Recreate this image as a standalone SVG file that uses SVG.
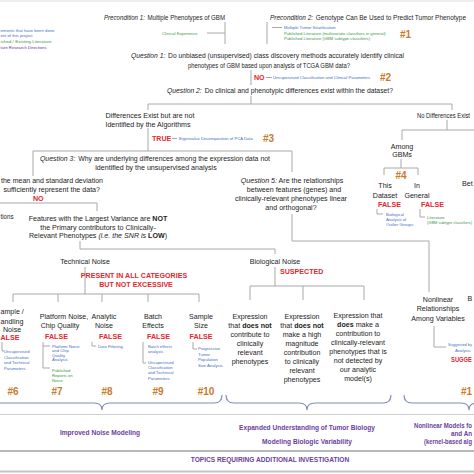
<svg xmlns="http://www.w3.org/2000/svg" width="474" height="474" viewBox="0 0 474 474">
<style>
text{font-family:"Liberation Sans",Arial,sans-serif;font-size:7.1px;fill:#1c1c1c}
.m{text-anchor:middle}
.e{text-anchor:end}
.i{font-style:italic}
.bd{font-weight:bold}
.r{fill:#e0282e;font-weight:bold}
.o{fill:#c97a2c;font-weight:bold;font-size:10px}
.s{font-size:4.2px}
.b{fill:#3f6fc4}
.g{fill:#3a9a48}
.p{fill:#7030a0}
.pp{fill:#6a3f9c;font-weight:bold;font-size:6.6px}
.ln{stroke:#a8a8a8;stroke-width:1;fill:none}
.br{stroke:#7d8fb8;stroke-width:1.2;fill:none}
</style>
<rect width="474" height="474" fill="#ffffff"/>
<line x1="0" y1="1" x2="474" y2="1" stroke="#dcdcdc" stroke-width="1"/>

<g id="connectors">
<path class="ln" d="M225 22V44M267 22V44M272 27.5H282M207 33H225"/>
<path class="ln" d="M251 70V85M266 77.5H272M251 96V104M148 110V104H452V110"/>
<path class="ln" d="M447 120V130M402 140V130H474M401 159V168M384 175V168H418V175"/>
<path class="ln" d="M377 209V214H383M420 209V217H425"/>
<path class="ln" d="M148 128V151M172 138.5H177M33 176V151H292V172M292 214V241H429V292"/>
<path class="ln" d="M97 211V203H0"/>
<path class="ln" d="M80 241V249H275V254M85 267V294M13 302V294H199V302M58 294V302M102 294V302M148 294V302"/>
<path class="ln" d="M275 267V286M250 300V286H364V300M303 286V300"/>
<path class="ln" d="M2 342V351H4M43 342V368H50M43 346H50M92 342V346H96M143 342V363H146M193 342V349H197M434 326V347H446"/>
<path class="br" d="M-10 403H94Q102 403 102 410Q102 403 110 403H214Q222 403 222 395"/>
<path class="br" d="M226 395Q226 403 234 403H299Q307 403 307 410Q307 403 315 403H383Q391 403 391 395"/>
<path class="br" d="M404 395Q404 403 412 403H461Q469 403 469 410Q469 403 477 403H490"/>
<line x1="0" y1="414.5" x2="474" y2="414.5" stroke="#cfcfcf" stroke-width="1"/>
<line x1="0" y1="451" x2="474" y2="451" stroke="#a0a0a0" stroke-width="1.3"/>
<line x1="0" y1="471.5" x2="474" y2="471.5" stroke="#c4c4c4" stroke-width="2"/>
</g>

<g id="legend">
<text class="s b" x="0.5" y="31.5" textLength="54" lengthAdjust="spacingAndGlyphs">ements that have been done</text>
<text class="s b" x="0.5" y="37" textLength="32" lengthAdjust="spacingAndGlyphs">ent of this project</text>
<text class="s g" x="0.5" y="43" textLength="51" lengthAdjust="spacingAndGlyphs">ished / Existing Literature</text>
<text class="s p" x="0.5" y="48.5" textLength="46" lengthAdjust="spacingAndGlyphs">ture Research Directions</text>
</g>

<g id="precondition1">
<text x="104" y="20" textLength="121" lengthAdjust="spacingAndGlyphs"><tspan class="i">Precondition 1:</tspan><tspan dx="3">Multiple Phenotypes of GBM</tspan></text>
<text class="s g" x="162" y="34.5">Clinical Experience</text>
</g>

<g id="precondition2">
<text x="270" y="20" textLength="196" lengthAdjust="spacingAndGlyphs"><tspan class="i">Precondition 2:</tspan><tspan dx="3">Genotype Can Be Used to Predict Tumor Phenotype</tspan></text>
<text class="s b" x="284" y="29">Multiple Tumor Stratification</text>
<text class="s g" x="284" y="34.5">Published Literature (multivariate classifiers in general)</text>
<text class="s g" x="284" y="40">Published Literature (GBM subtype classifiers)</text>
<text class="o" x="400" y="38">#1</text>
</g>

<g id="question1">
<text x="131" y="58" textLength="273" lengthAdjust="spacingAndGlyphs"><tspan class="i">Question 1:</tspan><tspan dx="3">Do unbiased (unsupervised) class discovery methods accurately identify clinical</tspan></text>
<text x="188" y="68" textLength="162" lengthAdjust="spacingAndGlyphs">phenotypes of GBM based upon analysis of TCGA GBM data?</text>
<text class="r" x="254" y="80">NO</text>
<text class="s b" x="273" y="79">Unsupervised Classification and Clinical Parameters</text>
<text class="o" x="380" y="81">#2</text>
</g>

<g id="question2">
<text x="167" y="93" textLength="226" lengthAdjust="spacingAndGlyphs"><tspan class="i">Question 2:</tspan><tspan dx="3">Do clinical and phenotypic differences exist within the dataset?</tspan></text>
</g>

<g id="diff-exist">
<text class="m" x="150" y="118">Differences Exist but are not</text>
<text class="m" x="148" y="126.5">Identified by the Algorithms</text>
<text class="r" x="152" y="141">TRUE</text>
<text class="s b" x="179" y="140">Eigenvalue Decomposition of PCA Data</text>
<text class="o" x="263" y="142">#3</text>
</g>

<g id="no-diff">
<text x="417" y="118" textLength="53" lengthAdjust="spacingAndGlyphs">No Differences Exist</text>
<text class="m" x="402" y="149">Among</text>
<text class="m" x="402" y="157">GBMs</text>
<text class="o m" x="401" y="179">#4</text>
<text class="m" x="385" y="188">This</text>
<text class="m" x="385" y="198">Dataset</text>
<text class="r" x="378" y="207">FALSE</text>
<text class="s b" x="386" y="215.5">Biological</text>
<text class="s b" x="386" y="220.5">Analysis of</text>
<text class="s b" x="386" y="225.5">Outlier Groups</text>
<text class="m" x="417" y="188">In</text>
<text class="m" x="417" y="198">General</text>
<text class="r" x="421" y="207">FALSE</text>
<text class="s g" x="427" y="218.5">Literature</text>
<text class="s g" x="427" y="223.5" textLength="45" lengthAdjust="spacingAndGlyphs">(GBM subtype classifiers)</text>
<text x="462" y="186">Bet</text>
</g>

<g id="question3">
<text x="40" y="161" textLength="230" lengthAdjust="spacingAndGlyphs"><tspan class="i">Question 3:</tspan><tspan dx="3">Why are underlying differences among the expression data not</tspan></text>
<text class="m" x="156" y="170">identified by the unsupervised analysis</text>
</g>

<g id="question4">
<text x="1" y="183" textLength="102" lengthAdjust="spacingAndGlyphs">the mean and standard deviation</text>
<text class="e" x="100" y="192">sufficiently represent the data?</text>
<text class="r" x="33" y="201">NO</text>
<text x="0.5" y="219" textLength="13" lengthAdjust="spacingAndGlyphs">tions</text>
</g>

<g id="features">
<text class="m" x="98" y="221">Features with the Largest Variance are <tspan class="bd">NOT</tspan></text>
<text class="m" x="98" y="229.5">the Primary contributors to Clinically-</text>
<text class="m" x="98" y="238">Relevant Phenotypes <tspan class="i">(i.e. the SNR is</tspan> <tspan class="bd">LOW</tspan>)</text>
</g>

<g id="question5">
<text class="m" x="292" y="183"><tspan class="i">Question 5:</tspan> Are the relationships</text>
<text class="m" x="294" y="191.5">between features (genes) and</text>
<text class="m" x="291" y="200.5">clinically-relevant phenotypes linear</text>
<text class="m" x="291" y="209.5">and orthogonal?</text>
</g>

<g id="technical-noise">
<text class="m" x="85" y="264">Technical Noise</text>
<text class="r m" x="134" y="278">PRESENT IN ALL CATEGORIES</text>
<text class="r m" x="136" y="287">BUT NOT EXCESSIVE</text>
</g>

<g id="sample-handling">
<text x="0.5" y="314">ample /</text>
<text x="0.5" y="323.5">andling</text>
<text x="3" y="332">Noise</text>
<text class="r" x="0.5" y="340">ALSE</text>
<text class="s b" x="4" y="353">Unsupervised</text>
<text class="s b" x="4" y="358.5">Classification</text>
<text class="s b" x="4" y="364">and Technical</text>
<text class="s b" x="4" y="369.5">Parameters</text>
<text class="o m" x="13" y="395">#6</text>
</g>

<g id="platform">
<text class="m" x="64" y="319">Platform Noise,</text>
<text class="m" x="60" y="328">Chip Quality</text>
<text class="r" x="45" y="339">FALSE</text>
<text class="s b" x="52" y="347.5">Platform Noise</text>
<text class="s b" x="52" y="352">and Chip</text>
<text class="s b" x="52" y="356.5">Quality</text>
<text class="s b" x="52" y="361">Analysis</text>
<text class="s g" x="52" y="372">Published</text>
<text class="s g" x="52" y="376.5">Reports on</text>
<text class="s g" x="52" y="381.5">Noise</text>
<text class="o m" x="57" y="395">#7</text>
</g>

<g id="analytic">
<text class="m" x="104" y="319">Analytic</text>
<text class="m" x="104" y="328">Noise</text>
<text class="r" x="99" y="339">FALSE</text>
<text class="s b" x="98" y="347.5">Data Filtering</text>
<text class="o m" x="107" y="395">#8</text>
</g>

<g id="batch">
<text class="m" x="153" y="319">Batch</text>
<text class="m" x="153" y="328">Effects</text>
<text class="r" x="147" y="339">FALSE</text>
<text class="s b" x="148" y="348">Batch effects</text>
<text class="s b" x="148" y="353">analysis</text>
<text class="s b" x="148" y="364">Unsupervised</text>
<text class="s b" x="148" y="369">Classification</text>
<text class="s b" x="148" y="374">and Technical</text>
<text class="s b" x="148" y="379.5">Parameters</text>
<text class="o m" x="158" y="395">#9</text>
</g>

<g id="sample-size">
<text class="m" x="201" y="319">Sample</text>
<text class="m" x="201" y="328">Size</text>
<text class="r m" x="201" y="339">FALSE</text>
<text class="s b" x="198" y="350">Progressive</text>
<text class="s b" x="198" y="355.5">Tumor</text>
<text class="s b" x="198" y="361">Population</text>
<text class="s b" x="198" y="366.5">Size Analysis</text>
<text class="o m" x="206" y="395">#10</text>
</g>

<g id="biological-noise">
<text class="m" x="275" y="264">Biological Noise</text>
<text class="r" x="280" y="274">SUSPECTED</text>
</g>

<g id="expr-not-contribute">
<text class="m" x="250" y="319">Expression</text>
<text class="m" x="250" y="328">that <tspan class="bd">does not</tspan></text>
<text class="m" x="250" y="337">contribute to</text>
<text class="m" x="250" y="346">clinically</text>
<text class="m" x="250" y="355">relevant</text>
<text class="m" x="250" y="364">phenotypes</text>
</g>

<g id="expr-low-magnitude">
<text class="m" x="302" y="319">Expression</text>
<text class="m" x="302" y="328">that <tspan class="bd">does not</tspan></text>
<text class="m" x="302" y="337">make a high</text>
<text class="m" x="302" y="346">magnitude</text>
<text class="m" x="302" y="355">contribution</text>
<text class="m" x="302" y="363.5">to clinically</text>
<text class="m" x="302" y="372.5">relevant</text>
<text class="m" x="302" y="381.5">phenotypes</text>
</g>

<g id="expr-undetected">
<text class="m" x="358" y="318">Expression that</text>
<text class="m" x="358" y="327"><tspan class="bd">does</tspan>  make a</text>
<text class="m" x="358" y="336">contribution to</text>
<text class="m" x="358" y="345">clinically-relevant</text>
<text class="m" x="358" y="353.5">phenotypes that is</text>
<text class="m" x="358" y="362.5">not detected by</text>
<text class="m" x="358" y="372">our analytic</text>
<text class="m" x="358" y="381">model(s)</text>
</g>

<g id="nonlinear">
<text class="m" x="438" y="302">Nonlinear</text>
<text class="m" x="438" y="311">Relationships</text>
<text class="m" x="438" y="320.5">Among Variables</text>
<text x="467.5" y="301">B</text>
<text class="s b" x="448" y="346" textLength="24" lengthAdjust="spacingAndGlyphs">Suggested by</text>
<text class="s b" x="455" y="352">Analysis</text>
<text class="r" x="451" y="362" textLength="21" lengthAdjust="spacingAndGlyphs">SUGGE</text>
<text class="o" x="461" y="395">#1</text>
</g>

<g id="topics">
<text class="pp m" x="100" y="435">Improved Noise Modeling</text>
<text class="pp m" x="307" y="430">Expanded Understanding of Tumor Biology</text>
<text class="pp m" x="307" y="444">Modeling Biologic Variability</text>
<text class="pp" x="414" y="428" textLength="58" lengthAdjust="spacingAndGlyphs">Nonlinear Models fo</text>
<text class="pp" x="451" y="436" textLength="21" lengthAdjust="spacingAndGlyphs">and An</text>
<text class="pp" x="424" y="444" textLength="48" lengthAdjust="spacingAndGlyphs">(kernel-based alg</text>
<text class="pp m" x="270" y="462">TOPICS REQUIRING ADDITIONAL INVESTIGATION</text>
</g>
</svg>
